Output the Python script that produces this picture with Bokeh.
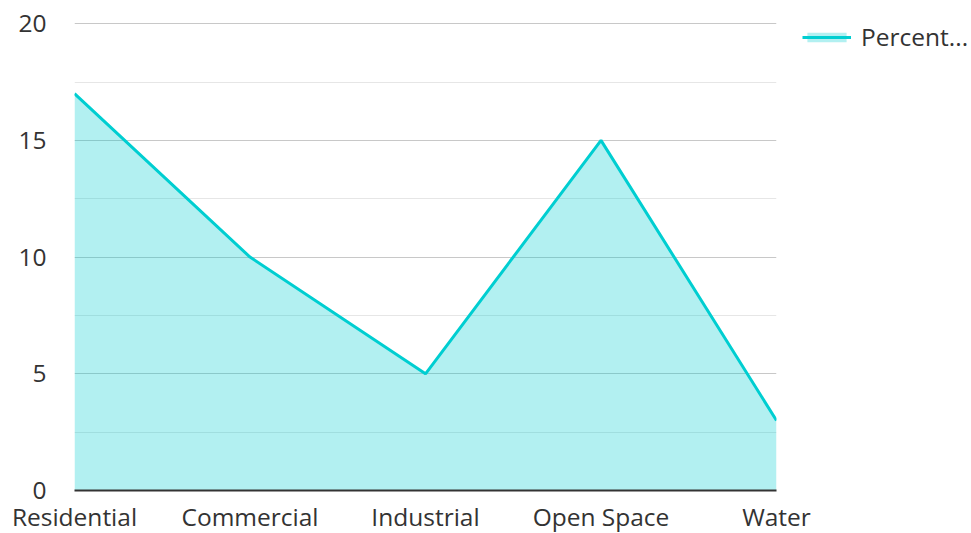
from bokeh.plotting import figure
from bokeh.models import Range1d, FixedTicker, Legend, LegendItem
from bokeh.embed import file_html
from bokeh.resources import INLINE

categories = ["Residential", "Commercial", "Industrial", "Open Space", "Water"]
percent = [17, 10, 5, 15, 3]
y_ticks = [0, 5, 10, 15, 20]
y_minor = [2.5, 7.5, 12.5, 17.5]
series_name = "Percent..."

xs = list(range(len(categories)))
FONT = "Open Sans"
TEXT = "#333333"
LINE = "#00CED1"
FS = "24.5px"

p = figure(output_backend="svg", toolbar_location=None,
           x_range=Range1d(0, len(categories) - 1), y_range=Range1d(0, 20.05),
           frame_width=702, frame_height=468,
           min_border_left=74, min_border_top=22, min_border_bottom=42, min_border_right=192)
p.outline_line_color = None

fill = p.varea(x=xs, y1=[0] * len(xs), y2=percent, fill_color=LINE, fill_alpha=0.3)
line = p.line(x=xs, y=percent, line_color=LINE, line_width=3)

p.xaxis.ticker = FixedTicker(ticks=xs)
p.xaxis.major_label_overrides = {i: c for i, c in enumerate(categories)}
p.xaxis.axis_line_color = TEXT
p.xaxis.axis_line_width = 2
p.xaxis.major_tick_line_color = None
p.xaxis.minor_tick_line_color = None
p.xaxis.major_label_standoff = 3
p.xaxis.major_label_text_font = FONT
p.xaxis.major_label_text_font_size = FS
p.xaxis.major_label_text_color = TEXT

p.yaxis.ticker = FixedTicker(ticks=y_ticks, minor_ticks=y_minor)
p.yaxis.axis_line_color = None
p.yaxis.major_tick_line_color = None
p.yaxis.minor_tick_line_color = None
p.yaxis.major_label_standoff = 22
p.yaxis.major_label_text_font = FONT
p.yaxis.major_label_text_font_size = FS
p.yaxis.major_label_text_color = TEXT

p.xgrid.grid_line_color = None
p.ygrid.grid_line_color = "#c8c8c8"
p.ygrid.grid_line_width = 1
p.ygrid.minor_grid_line_color = "#e6e6e6"

legend = Legend(items=[LegendItem(label=series_name, renderers=[fill, line])],
                location=(26, 437), border_line_color=None, background_fill_alpha=0,
                label_text_font=FONT, label_text_font_size=FS, label_text_color=TEXT,
                glyph_width=49, glyph_height=12, padding=0, margin=0, spacing=0,
                label_standoff=10)
p.add_layout(legend, "right")

open("out.html", "w").write(file_html(p, INLINE))
